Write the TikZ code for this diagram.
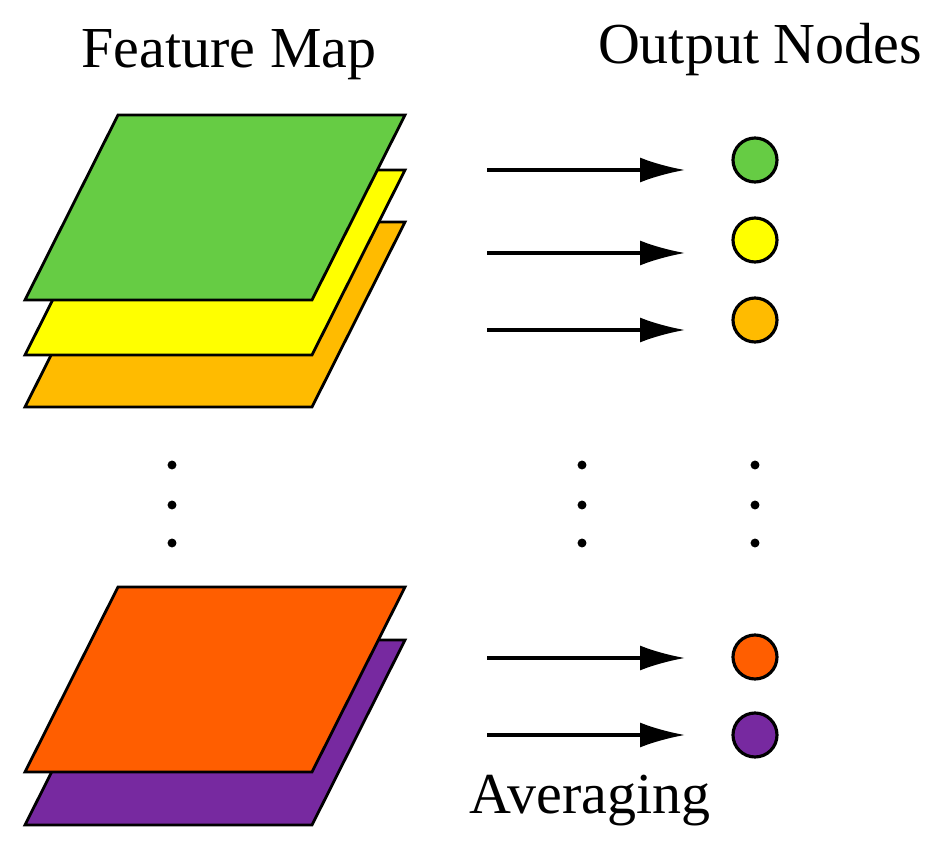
\documentclass[tikz,border=0pt]{standalone}
\usepackage{fontspec}
\setmainfont{Liberation Serif}
\usetikzlibrary{arrows.meta}
\definecolor{mapgreen}{RGB}{102,204,68}
\definecolor{mapyellow}{RGB}{255,255,0}
\definecolor{maporange}{RGB}{255,187,0}
\definecolor{mapred}{RGB}{255,94,0}
\definecolor{mappurple}{RGB}{119,41,160}
\newcommand{\fmap}[2]{%
  \filldraw[fill=#2,draw=black,line width=1.6pt]
    (0.5,#1) -- (6.24,#1) -- (8.1,#1+3.7) -- (2.36,#1+3.7) -- cycle;}
\begin{document}
\begin{tikzpicture}[x=1cm,y=1cm,
  out node/.style={circle,draw,line width=1.8pt,minimum size=0.88cm,inner sep=0pt},
  link/.style={-{Latex[length=0.9cm,width=0.5cm]},line width=1.8pt},
  dots/.style={circle,fill,inner sep=1.8pt},
  lbl/.style={font=\fontsize{33}{38}\selectfont}]
  \useasboundingbox (0,0) rectangle (18.7,17.08);

  % stacked feature maps
  \fmap{8.94}{maporange}
  \fmap{9.98}{mapyellow}
  \fmap{11.08}{mapgreen}
  \fmap{0.58}{mappurple}
  \fmap{1.64}{mapred}

  \node[lbl] (fm) at (4.58,15.98) {Feature Map};
  \node[lbl] (on) at (15.2,16.08) {Output Nodes};
  \node[lbl] (avg) at (11.8,1.06) {Averaging};

  % output nodes
  \node[out node,fill=mapgreen]  (o1) at (15.1,13.88) {};
  \node[out node,fill=mapyellow] (o2) at (15.1,12.28) {};
  \node[out node,fill=maporange] (o3) at (15.1,10.68) {};
  \node[out node,fill=mapred]    (o4) at (15.1,3.94) {};
  \node[out node,fill=mappurple] (o5) at (15.1,2.38) {};

  % averaging arrows
  \foreach \i/\y in {1/13.68,2/12.02,3/10.48,4/3.92,5/2.38}{
    \coordinate (s\i) at (9.74,\y);
    \coordinate (e\i) at (13.7,\y);
    \draw[link] (s\i) -- (e\i);
  }

  % ellipsis
  \foreach \x/\n in {3.44/a,11.64/b,15.1/c}{
    \foreach \y/\m in {7.78/1,6.98/2,6.22/3}
      \node[dots] (d\n\m) at (\x,\y) {};
  }
\end{tikzpicture}
\end{document}
